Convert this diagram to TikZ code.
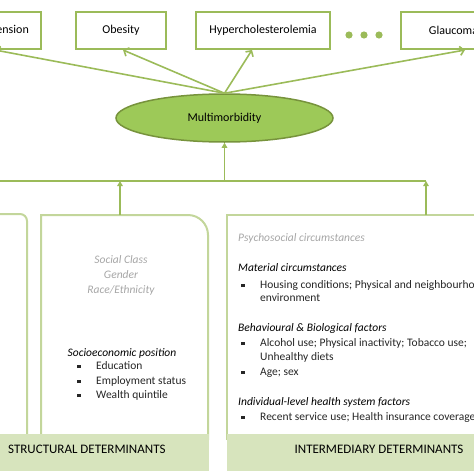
\documentclass[tikz,border=0pt]{standalone}
\usepackage{fontspec}
\setmainfont{Carlito}
\usepackage{tikz}
\usetikzlibrary{arrows.meta,shapes.geometric,positioning}

\definecolor{boxgreen}{HTML}{9BBB59}
\definecolor{palegreen}{HTML}{C3D69B}
\definecolor{bandgreen}{HTML}{D7E4BD}
\definecolor{ellfill}{HTML}{9DC958}
\definecolor{elldraw}{HTML}{77933C}
\definecolor{softgrey}{HTML}{A6A6A6}

\newcommand{\bul}{\makebox[19pt][l]{\rule[0.8pt]{3.5pt}{3.5pt}}}

\begin{document}
\begin{tikzpicture}[x=1pt, y=-1pt,
    dis/.style={draw=boxgreen, line width=2pt, minimum width=90pt, minimum height=37pt, inner sep=0pt, font=\fontsize{12}{14}\selectfont},
    arr/.style={-{Straight Barb[length=4pt,width=9pt]}, boxgreen, line width=1.6pt},
    uarr/.style={-{Triangle[length=5pt,width=5.5pt]}, boxgreen, line width=1.6pt},
    lowbox/.style={draw=palegreen, line width=2pt},
    band/.style={fill=bandgreen},
    hdr/.style={anchor=base west, inner sep=0pt, font=\fontsize{11.5}{14}\selectfont\itshape},
    itm/.style={anchor=base west, inner sep=0pt, text=black!85, font=\fontsize{11.5}{14}\selectfont},
    soft/.style={inner sep=0pt, text=softgrey, font=\fontsize{11.5}{14}\selectfont\itshape},
    bandlbl/.style={anchor=base west, inner sep=0pt, font=\fontsize{13}{15}\selectfont}
]
\useasboundingbox (0,0) rectangle (474,474);
\clip (0,0) rectangle (474,474);

% conditions
\node[dis] (H) at (-4,30.5) {Hypertension};
\node[dis] (O) at (121,30.5) {Obesity};
\node[dis, minimum width=134pt] (C) at (263,30.5) {Hypercholesterolemia};
\node[dis, minimum width=105pt] (G) at (453.5,30.5) {Glaucoma};
\foreach \dx in {349,364,379}
  \fill[boxgreen] (\dx,35) circle (3.6pt);

\node[ellipse, draw=elldraw, fill=ellfill, line width=1.5pt, minimum width=217pt, minimum height=48pt, inner sep=0pt, font=\fontsize{12}{14}\selectfont] (M) at (224.5,118) {Multimorbidity};

\draw[arr] (M.north) -- (H.south -| -5,0);
\draw[arr] (M.north) -- (O.south -| 123,0);
\draw[arr] (M.north) -- (C.south -| 252,0);
\draw[arr] (M.north) -- (G.south -| 465,0);

% determinants
\draw[lowbox] (-20,214) -- (20,214) arc[start angle=90, end angle=0, radius=7pt] -- (27,440);
\draw[lowbox] (41,440) -- (41,215) -- (188,215) arc[start angle=90, end angle=0, radius=20pt] -- (208,440);
\draw[lowbox] (227,440) -- (227,215) -- (490,215);

\coordinate (J) at (224.5,181);
\coordinate (SJ) at (120,181);
\coordinate (IJ) at (426,181);
\coordinate (ST) at (120,215);
\coordinate (IT) at (426,215);
\draw[boxgreen, line width=1.6pt] (-5,181) -- (IJ);
\draw[uarr] (J) -- (M.south);
\draw[uarr] (ST) -- (SJ);
\draw[uarr] (IT) -- (IJ);

\path[band] (-5,434) rectangle (209,471);
\path[band] (227,434) rectangle (490,471);
\node[bandlbl] (SD) at (8,453) {STRUCTURAL DETERMINANTS};
\node[bandlbl, anchor=base] (ID) at (379,453) {INTERMEDIARY DETERMINANTS};

% structural
\node[soft, anchor=base] (SC) at (121,263) {Social Class};
\node[soft, anchor=base] (GE) at (121,278) {Gender};
\node[soft, anchor=base] (RE) at (121,293) {Race/Ethnicity};
\node[hdr, anchor=base] (SP) at (122,356) {Socioeconomic position};
\node[itm] (S1) at (77,369) {\bul Education};
\node[itm] (S2) at (77,384) {\bul Employment status};
\node[itm] (S3) at (77,398) {\bul Wealth quintile};

% intermediary
\node[soft, anchor=base west] (PC) at (238,241) {Psychosocial circumstances};
\node[hdr] (MC) at (238,271) {Material circumstances};
\node[itm] (M1) at (241,288) {\bul Housing conditions; Physical and neighbourhood};
\node[itm] (M2) at (260,301) {environment};
\node[hdr] (BF) at (238,331) {Behavioural \& Biological factors};
\node[itm] (B1) at (241,346) {\bul Alcohol use; Physical inactivity; Tobacco use;};
\node[itm] (B2) at (260,360) {Unhealthy diets};
\node[itm] (B3) at (241,375) {\bul Age; sex};
\node[hdr] (HF) at (238,405) {Individual-level health system factors};
\node[itm] (H1) at (241,420) {\bul Recent service use; Health insurance coverage};
\end{tikzpicture}
\end{document}
